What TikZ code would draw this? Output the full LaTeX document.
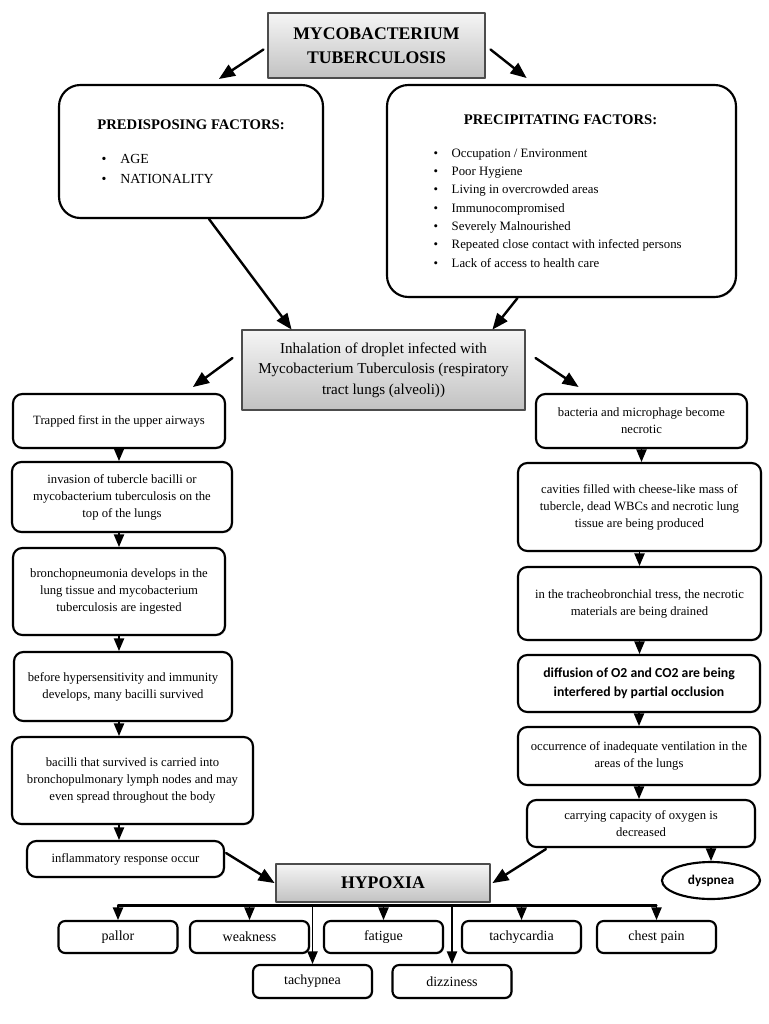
\documentclass[tikz,border=0pt]{standalone}
\usepackage{fontspec}
\setmainfont{Liberation Serif}
\newfontfamily\calfont{Carlito}
\usepackage{tikz}
\usetikzlibrary{calc}
\usetikzlibrary{arrows}
\usetikzlibrary{shadows}
\usetikzlibrary{shapes.geometric}
\definecolor{boxlight}{rgb}{0.96,0.96,0.96}
\definecolor{boxgrey}{rgb}{0.76,0.76,0.76}
\definecolor{edgegrey}{rgb}{0.3,0.3,0.3}
\tikzstyle{every node}=[font=\fontsize{9.5}{12.75}\selectfont]
\tikzstyle{flowbox}=[draw, line width=1.6pt, rounded corners=7, inner sep=0pt, align=center, fill=white, drop shadow={shadow xshift=0.8pt,shadow yshift=-0.8pt,opacity=0.5}]
\tikzstyle{bigbox}=[flowbox, rounded corners=16]
\tikzstyle{greybox}=[draw=edgegrey, line width=0.8pt, inner sep=0pt, align=center, top color=boxlight, bottom color=boxgrey, drop shadow={shadow xshift=0.8pt,shadow yshift=-0.8pt,opacity=0.5}, font=\fontsize{13.3}{18}\selectfont\bfseries]
\tikzstyle{signbox}=[flowbox, rounded corners=5, minimum width=89.25pt, minimum height=24pt, font=\fontsize{10.5}{12}\selectfont]
\tikzstyle{flow}=[->, line width=1.2pt]
\tikzstyle{bigflow}=[->, line width=1.8pt]

\begin{document}
\begin{tikzpicture}[line cap=round,line join=round,>=triangle 45,x=0.75pt,y=-0.75pt]
\useasboundingbox (0,0) rectangle (768,1024);
% causes
\node [greybox, minimum width=162.75pt, minimum height=48.75pt] (myco) at (376.5,45.5) {MYCOBACTERIUM\\TUBERCULOSIS};
\node [bigbox, minimum width=198pt, minimum height=99.75pt] (pre) at (191,151.5) {};
\node [bigbox, minimum width=261.75pt, minimum height=159pt] (prec) at (561.5,191) {};
\node [font=\fontsize{11}{13}\selectfont\bfseries] (pretitle) at (191,125) {PREDISPOSING FACTORS:};
\node [anchor=west, align=left, font=\fontsize{10.4}{15}\selectfont] (prelist) at (97,169) {\makebox[14pt][l]{\textbullet}AGE\\\makebox[14pt][l]{\textbullet}NATIONALITY};
\node [font=\fontsize{11}{13}\selectfont\bfseries] (prectitle) at (560.5,120) {PRECIPITATING FACTORS:};
\node [anchor=west, align=left, font=\fontsize{9.6}{13.75}\selectfont] (preclist) at (429,208) {\makebox[13.5pt][l]{\textbullet}Occupation / Environment\\\makebox[13.5pt][l]{\textbullet}Poor Hygiene\\\makebox[13.5pt][l]{\textbullet}Living in overcrowded areas\\\makebox[13.5pt][l]{\textbullet}Immunocompromised\\\makebox[13.5pt][l]{\textbullet}Severely Malnourished\\\makebox[13.5pt][l]{\textbullet}Repeated close contact with infected persons\\\makebox[13.5pt][l]{\textbullet}Lack of access to health care};
\node [greybox, minimum width=212.25pt, minimum height=60pt, font=\fontsize{11.3}{15.4}\selectfont] (inh) at (383.5,370) {Inhalation of droplet infected with\\Mycobacterium Tuberculosis (respiratory\\tract lungs (alveoli))};
% left branch
\node [flowbox, minimum width=159pt, minimum height=40.5pt] (L1) at (119,421) {Trapped first in the upper airways};
\node [flowbox, minimum width=165pt, minimum height=52.5pt] (L2) at (122,497) {invasion of tubercle bacilli or\\mycobacterium tuberculosis on the\\top of the lungs};
\node [flowbox, minimum width=159pt, minimum height=65.25pt] (L3) at (119,591.5) {bronchopneumonia develops in the\\lung tissue and mycobacterium\\tuberculosis are ingested};
\node [flowbox, minimum width=163.5pt, minimum height=51.75pt] (L4) at (123,686.5) {before hypersensitivity and immunity\\develops, many bacilli survived};
\node [flowbox, minimum width=180.75pt, minimum height=65.25pt] (L5) at (132.5,780.5) {bacilli that survived is carried into\\bronchopulmonary lymph nodes and may\\even spread throughout the body};
\node [flowbox, minimum width=147.75pt, minimum height=27pt] (L6) at (125.5,859) {inflammatory response occur};
% right branch
\node [flowbox, minimum width=158.25pt, minimum height=40.5pt] (R1) at (641.5,421) {bacteria and microphage become\\necrotic};
\node [flowbox, minimum width=182.25pt, minimum height=66pt] (R2) at (639.5,507) {cavities filled with cheese-like mass of\\tubercle, dead WBCs and necrotic lung\\tissue are being produced};
\node [flowbox, minimum width=182.25pt, minimum height=54.75pt] (R3) at (639.5,603.5) {in the tracheobronchial tress, the necrotic\\materials are being drained};
\node [flowbox, minimum width=181.5pt, minimum height=42.75pt, font=\calfont\fontsize{10.3}{14.3}\selectfont\bfseries] (R4) at (639,683.5) {diffusion of O2 and CO2 are being\\interfered by partial occlusion};
\node [flowbox, minimum width=181.5pt, minimum height=43.5pt] (R5) at (639,756) {occurrence of inadequate ventilation in the\\areas of the lungs};
\node [flowbox, minimum width=171pt, minimum height=35.25pt] (R6) at (641,823.5) {carrying capacity of oxygen is\\decreased};
\node [ellipse, draw, line width=1.6pt, fill=white, inner sep=0pt, minimum width=73.5pt, minimum height=27.75pt, font=\calfont\fontsize{10}{12}\selectfont\bfseries] (dysp) at (711,880.5) {dyspnea};
% hypoxia and signs
\node [greybox, minimum width=160.5pt, minimum height=28.5pt] (hyp) at (383,883) {HYPOXIA};
\node [signbox] (pallor) at (118,937) {pallor};
\node [signbox] (weak) at (249.5,937) {weakness};
\node [signbox] (fatigue) at (383.5,937) {fatigue};
\node [signbox] (tachyc) at (521.5,937) {tachycardia};
\node [signbox] (chest) at (656.5,937) {chest pain};
\node [signbox, minimum height=24.75pt] (tachyp) at (312.5,981.5) {tachypnea};
\node [signbox, minimum height=24.75pt] (dizz) at (452,981.5) {dizziness};
% arrows
\draw [bigflow] ($(myco.west)+(-4,4)$) -- ($(pre.north)+(28,-5)$);
\draw [bigflow] ($(myco.east)+(5,4)$) -- ($(prec.north)+(-35,-6)$);
\draw [bigflow] ($(pre.south)+(18,0)$) -- ($(inh.north)+(-92,0)$);
\draw [bigflow] ($(prec.south)+(-44,0)$) -- ($(inh.north east)+(-33,0)$);
\draw [bigflow] ($(inh.west)+(-9,-12)$) -- ($(L1.north)+(74,-6)$);
\draw [bigflow] ($(inh.east)+(10,-12)$) -- ($(R1.north)+(-63,-6)$);
\foreach \a/\b in {L1/L2,L2/L3,L3/L4,L4/L5,L5/L6}
  \draw [flow] (\a.south -| L1.south) -- (\b.north -| L1.south);
\foreach \a/\b in {R1/R2,R2/R3,R3/R4,R4/R5,R5/R6}
  \draw [flow] (\a.south) -- (\a.south |- \b.north);
\draw [flow] (dysp.north |- R6.south) -- (dysp.north);
\draw [bigflow] ($(L6.east)+(1,-6)$) -- ($(hyp.west)+(-1,0)$);
\draw [bigflow] ($(R6.south west)+(20,1)$) -- ($(hyp.east)+(2,0)$);
\coordinate (bus) at ($(hyp.south)+(0,3)$);
\draw [line width=1.6pt] (pallor.north |- bus) -- (chest.north |- bus);
\foreach \n in {pallor,weak,fatigue,tachyc,chest,tachyp,dizz}
  \draw [flow] (\n.north |- bus) -- (\n.north);
\end{tikzpicture}
\end{document}
